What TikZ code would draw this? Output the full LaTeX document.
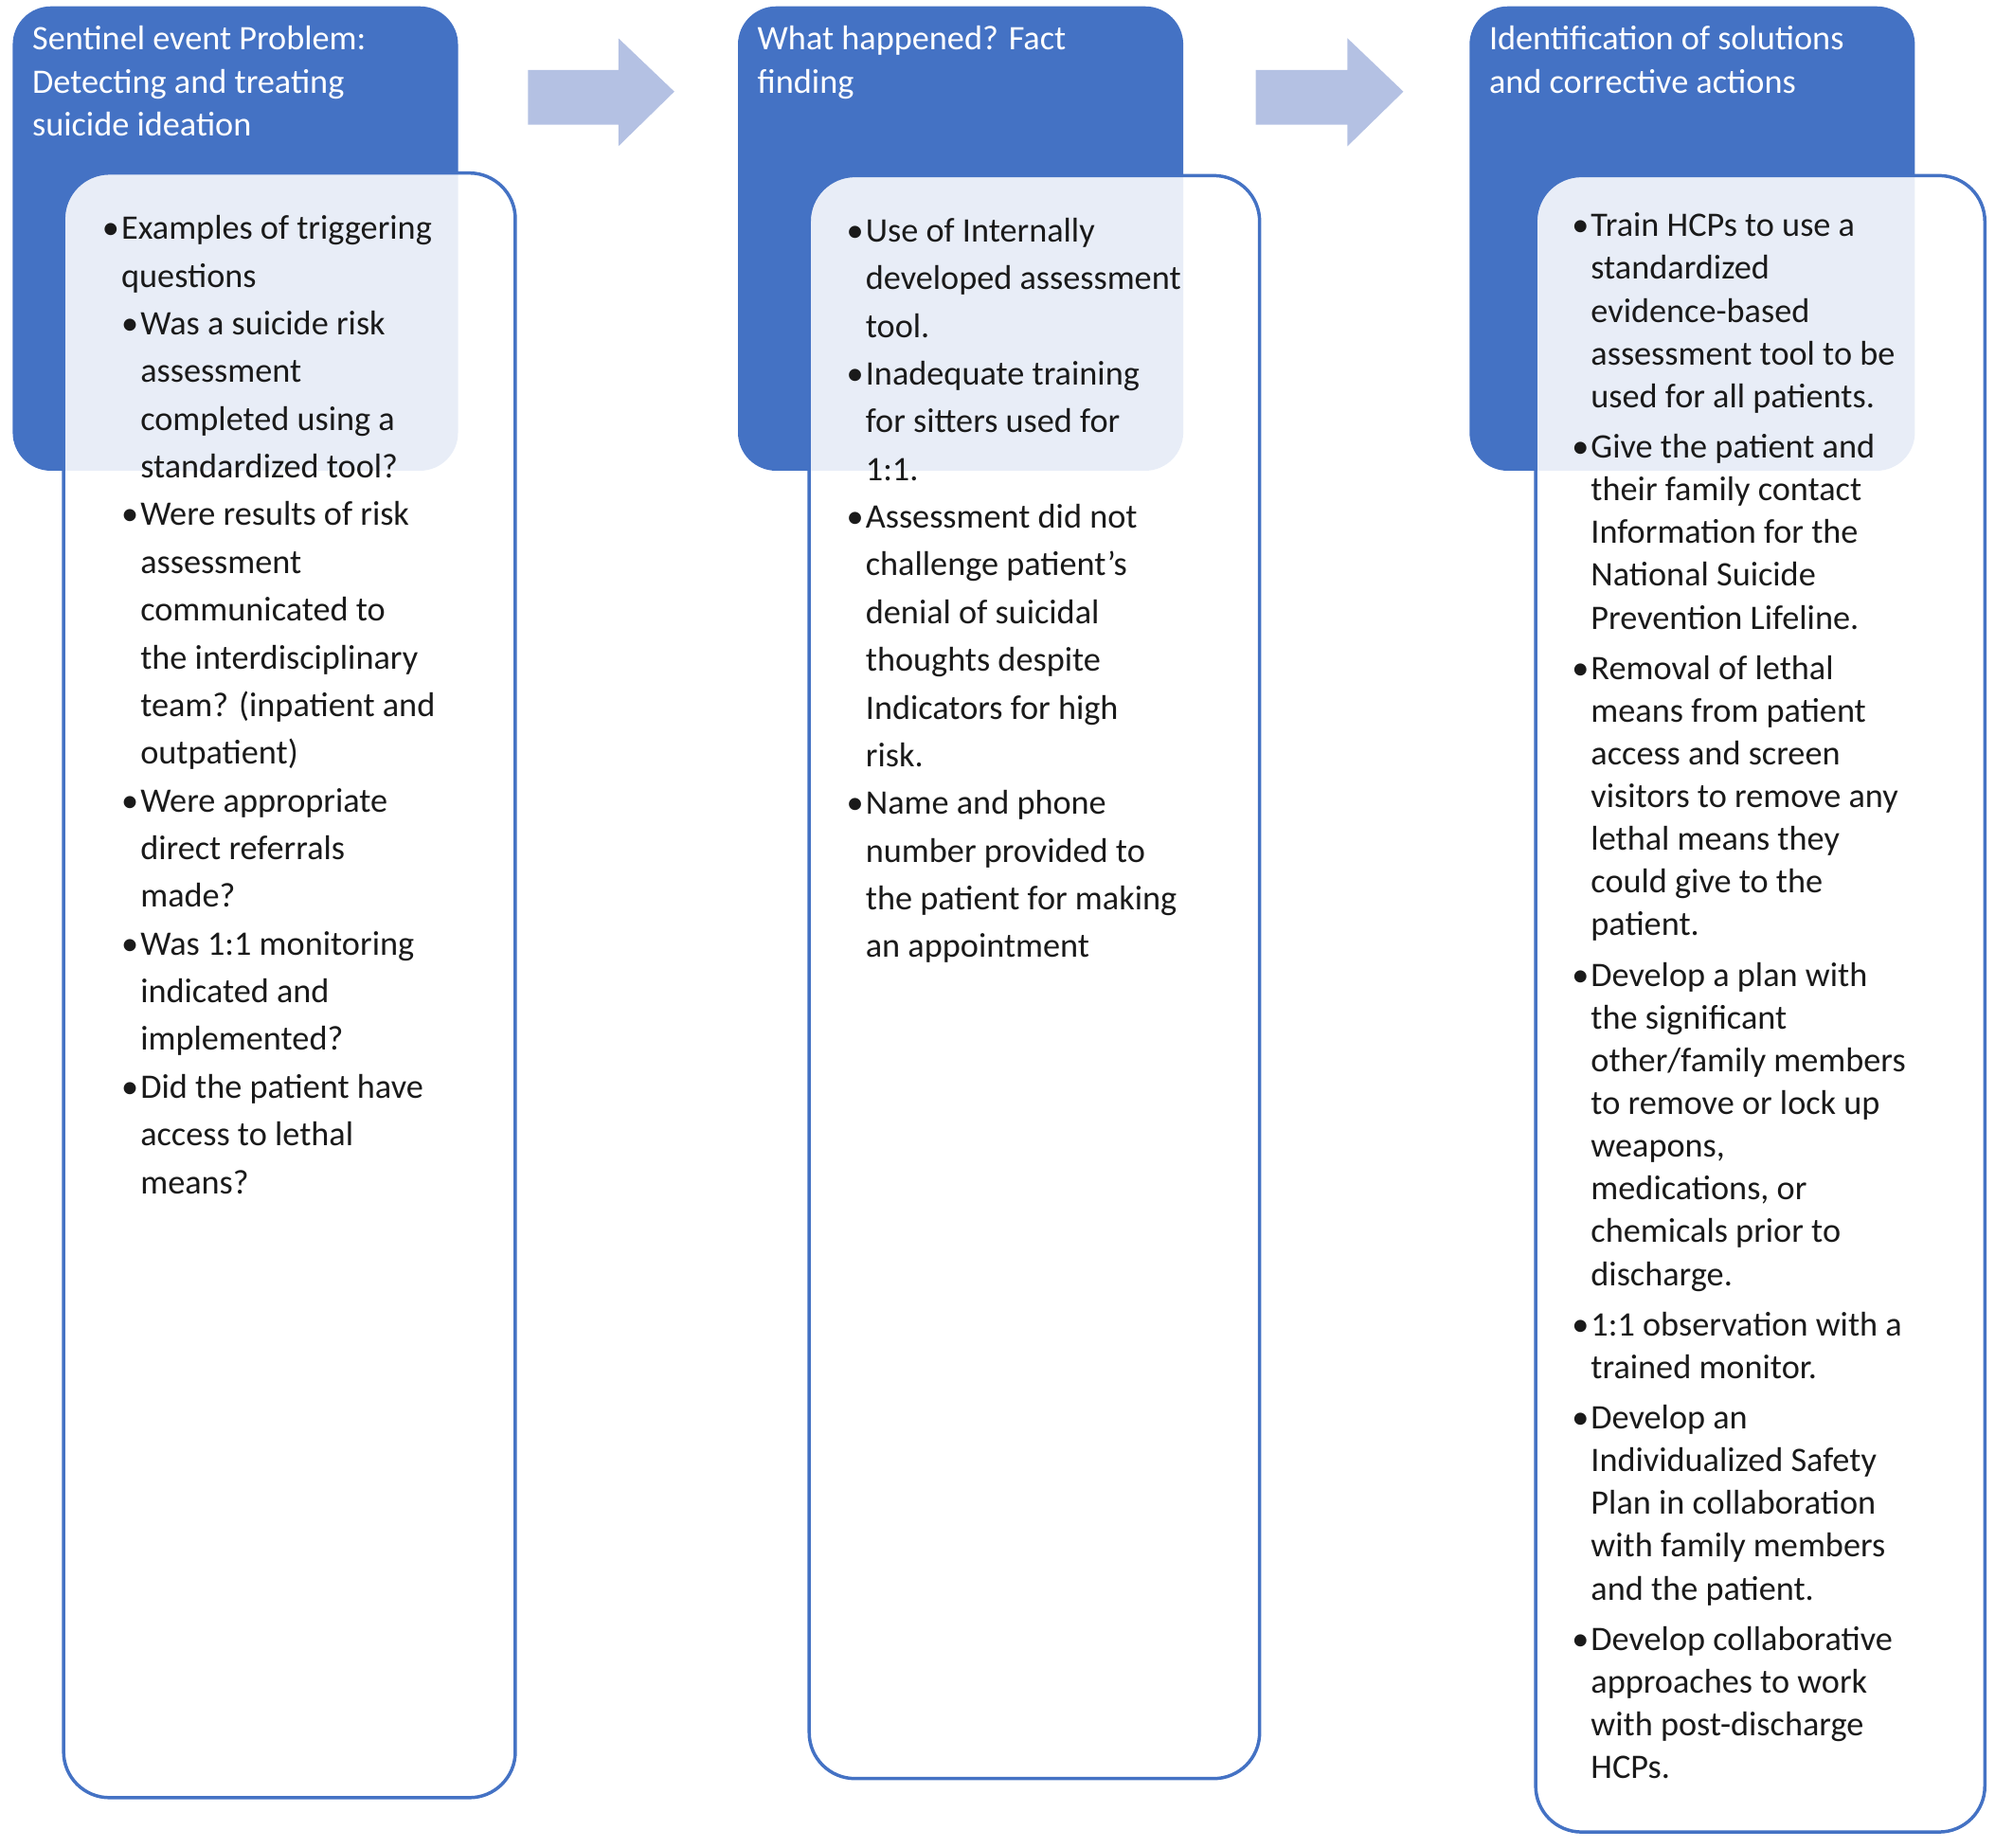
\documentclass[tikz,border=0pt]{standalone}
\usepackage{fontspec}
\setmainfont{Carlito}
\usetikzlibrary{positioning}
\definecolor{hdblue}{HTML}{4472C4}
\definecolor{arrblue}{HTML}{B4C1E3}
\definecolor{txtgray}{HTML}{1A1A1A}
\newcommand{\bl}{\makebox[7.5pt][l]{\textbullet}}
\begin{document}
\begin{tikzpicture}[x=0.5pt,y=-0.5pt,
        header/.style={fill=hdblue,draw=none,rounded corners=15pt},
        body/.style={fill=white,fill opacity=0.88,draw=hdblue,line width=1.3pt,rounded corners=18pt},
        steparrow/.style={fill=arrblue,draw=none},
        htext/.style={anchor=north west,align=left,text=white,font=\fontsize{13.5pt}{17pt}\selectfont,inner sep=0pt},
        btext/.style={anchor=north west,align=left,text=txtgray,inner sep=0pt}]
    \useasboundingbox (0,0) rectangle (1568,1452);
    % headers
    \fill[header] (10,5) rectangle (360,370);
    \fill[header] (580,5) rectangle (930,370);
    \fill[header] (1155,5) rectangle (1505,370);
    % arrows between steps
    \fill[steparrow] (415,55) -- (486,55) -- (486,30) -- (530,72) -- (486,115) -- (486,98) -- (415,98) -- cycle;
    \fill[steparrow] (987,55) -- (1059,55) -- (1059,30) -- (1103,72) -- (1059,115) -- (1059,98) -- (987,98) -- cycle;
    % bodies
    \draw[body] (50,136) rectangle (405,1413);
    \draw[body] (636,138) rectangle (990,1398);
    \draw[body] (1207,138) rectangle (1560,1440);
    % header texts
    \node[htext] (h1) at (25,20) {Sentinel event Problem:\\Detecting and treating\\suicide ideation};
    \node[htext] (h2) at (595,20) {What happened? Fact\\finding};
    \node[htext] (h3) at (1170,20) {Identification of solutions\\and corrective actions};
    % body texts
    \node[btext,font=\fontsize{13.5pt}{18.75pt}\selectfont] (b1) at (80,169) {%
        \bl Examples of triggering\\
        \hspace*{7.5pt}questions\\
        \hspace*{7.5pt}\bl Was a suicide risk\\
        \hspace*{15pt}assessment\\
        \hspace*{15pt}completed using a\\
        \hspace*{15pt}standardized tool?\\
        \hspace*{7.5pt}\bl Were results of risk\\
        \hspace*{15pt}assessment\\
        \hspace*{15pt}communicated to\\
        \hspace*{15pt}the interdisciplinary\\
        \hspace*{15pt}team? (inpatient and\\
        \hspace*{15pt}outpatient)\\
        \hspace*{7.5pt}\bl Were appropriate\\
        \hspace*{15pt}direct referrals\\
        \hspace*{15pt}made?\\
        \hspace*{7.5pt}\bl Was 1:1 monitoring\\
        \hspace*{15pt}indicated and\\
        \hspace*{15pt}implemented?\\
        \hspace*{7.5pt}\bl Did the patient have\\
        \hspace*{15pt}access to lethal\\
        \hspace*{15pt}means?};
    \node[btext,font=\fontsize{13.5pt}{18.75pt}\selectfont] (b2) at (665,171) {%
        \bl Use of Internally\\
        \hspace*{7.5pt}developed assessment\\
        \hspace*{7.5pt}tool.\\
        \bl Inadequate training\\
        \hspace*{7.5pt}for sitters used for\\
        \hspace*{7.5pt}1:1.\\
        \bl Assessment did not\\
        \hspace*{7.5pt}challenge patient's\\
        \hspace*{7.5pt}denial of suicidal\\
        \hspace*{7.5pt}thoughts despite\\
        \hspace*{7.5pt}Indicators for high\\
        \hspace*{7.5pt}risk.\\
        \bl Name and phone\\
        \hspace*{7.5pt}number provided to\\
        \hspace*{7.5pt}the patient for making\\
        \hspace*{7.5pt}an appointment};
    \node[btext,font=\fontsize{13.5pt}{16.8pt}\selectfont] (b3) at (1235,167) {%
        \bl Train HCPs to use a\\
        \hspace*{7.5pt}standardized\\
        \hspace*{7.5pt}evidence-based\\
        \hspace*{7.5pt}assessment tool to be\\
        \hspace*{7.5pt}used for all patients.\\[3pt]
        \bl Give the patient and\\
        \hspace*{7.5pt}their family contact\\
        \hspace*{7.5pt}Information for the\\
        \hspace*{7.5pt}National Suicide\\
        \hspace*{7.5pt}Prevention Lifeline.\\[3pt]
        \bl Removal of lethal\\
        \hspace*{7.5pt}means from patient\\
        \hspace*{7.5pt}access and screen\\
        \hspace*{7.5pt}visitors to remove any\\
        \hspace*{7.5pt}lethal means they\\
        \hspace*{7.5pt}could give to the\\
        \hspace*{7.5pt}patient.\\[3pt]
        \bl Develop a plan with\\
        \hspace*{7.5pt}the significant\\
        \hspace*{7.5pt}other/family members\\
        \hspace*{7.5pt}to remove or lock up\\
        \hspace*{7.5pt}weapons,\\
        \hspace*{7.5pt}medications, or\\
        \hspace*{7.5pt}chemicals prior to\\
        \hspace*{7.5pt}discharge.\\[3pt]
        \bl 1:1 observation with a\\
        \hspace*{7.5pt}trained monitor.\\[3pt]
        \bl Develop an\\
        \hspace*{7.5pt}Individualized Safety\\
        \hspace*{7.5pt}Plan in collaboration\\
        \hspace*{7.5pt}with family members\\
        \hspace*{7.5pt}and the patient.\\[3pt]
        \bl Develop collaborative\\
        \hspace*{7.5pt}approaches to work\\
        \hspace*{7.5pt}with post-discharge\\
        \hspace*{7.5pt}HCPs.};
\end{tikzpicture}
\end{document}
